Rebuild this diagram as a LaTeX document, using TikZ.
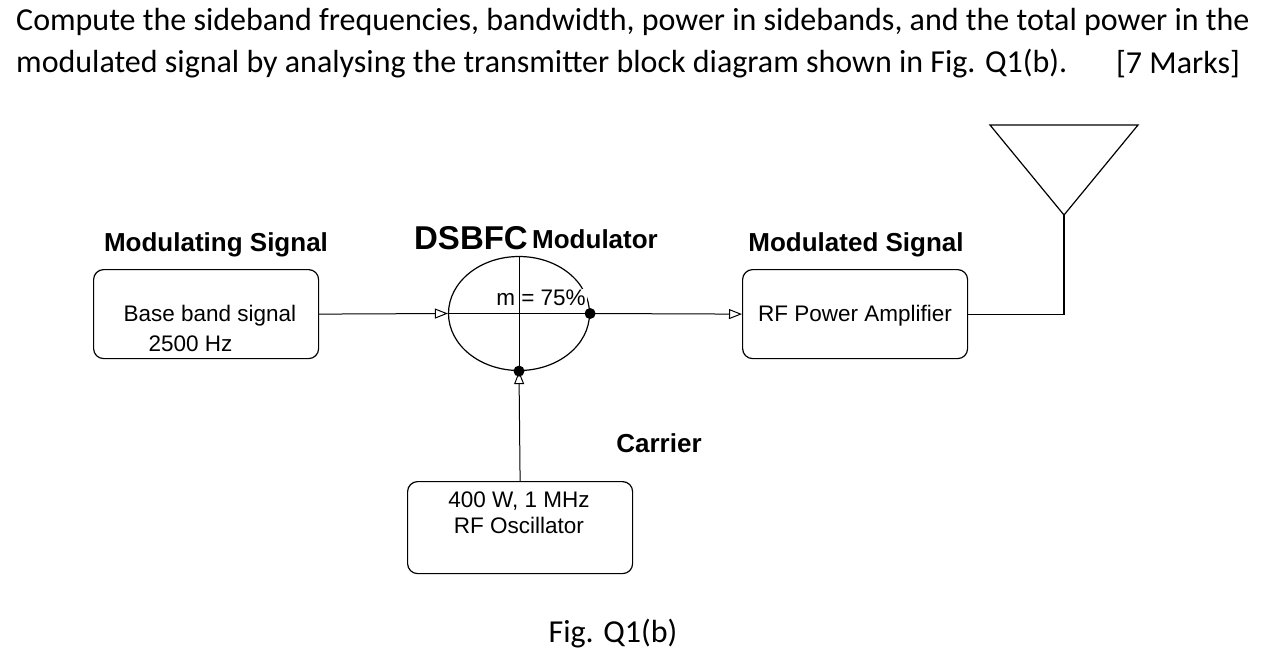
\documentclass[tikz,border=0pt]{standalone}
\usepackage{fontspec}
\setmainfont{Liberation Sans}
\newfontfamily\calfont{Carlito}
\usetikzlibrary{arrows.meta,shapes.geometric}
\begin{document}
\begin{tikzpicture}[x=1pt,y=-1pt,
  blk/.style={draw,line width=1.2pt,rounded corners=10pt,minimum width=225pt,anchor=north west},
  lbl/.style={font=\fontsize{26}{30}\selectfont\bfseries},
  txt/.style={font=\fontsize{22.5}{26}\selectfont},
  ttl/.style={font=\calfont\fontsize{32}{38}\selectfont,inner sep=0pt},
  arr/.style={-{Triangle[open,length=13pt,width=10pt]},line width=1pt},
  dot/.style={circle,fill=black,inner sep=0pt,minimum size=11pt}]
\useasboundingbox (0,0) rectangle (1274,670);
\node[ttl,anchor=west] (q1) at (16,22) {Compute the sideband frequencies, bandwidth, power in sidebands, and the total power in the};
\node[ttl,anchor=west] (q2) at (16,64) {modulated signal by analysing the transmitter block diagram shown in Fig. Q1(b).};
\node[ttl,anchor=east] (mk) at (1240,64) {[7 Marks]};
\node[blk,minimum height=89pt] (bb) at (93,269) {};
\node[txt,anchor=west] at (120,316) {Base band signal};
\node[txt,anchor=west] at (145,344) {2500 Hz};
\node[blk,minimum height=89pt] (rf) at (742,269) {};
\node[txt] at (855,316) {RF Power Amplifier};
\node[blk,minimum height=92pt] (osc) at (407,481) {};
\node[txt,align=center] at (519,513) {400 W, 1 MHz\\RF Oscillator};
\node[draw,ellipse,line width=1.2pt,minimum width=141pt,minimum height=114pt,inner sep=0pt] (m) at (519,313.5) {};
\draw[line width=1pt] (m.west) -- (m.east);
\node[txt,fill=white,inner sep=1pt] at (541,298) {m = 75\%};
\draw[line width=1pt] (m.north) -- (m.south);
\node[dot] (d1) at (m.east) {};
\node[dot] (d2) at (m.south) {};
\draw[arr] (bb.east) -- (m.west);
\draw[arr] (m.east) -- (rf.west);
\draw[arr] (osc.north) -- (m.south);
\node[lbl] at (216,245) {Modulating Signal};
\node[font=\fontsize{33}{36}\selectfont\bfseries] at (471,238) {DSBFC};
\node[lbl] at (595,239) {Modulator};
\node[lbl] at (856,245) {Modulated Signal};
\node[lbl] at (659,443) {Carrier};
\coordinate (ap) at (1064,215);
\draw[line width=1.2pt] (990,125) -- (1138,125) -- (ap) -- cycle;
\draw[line width=1.2pt] (rf.east) -- (rf.east -| ap) -- (ap);
\node[ttl] at (613,634) {Fig. Q1(b)};
\end{tikzpicture}
\end{document}
